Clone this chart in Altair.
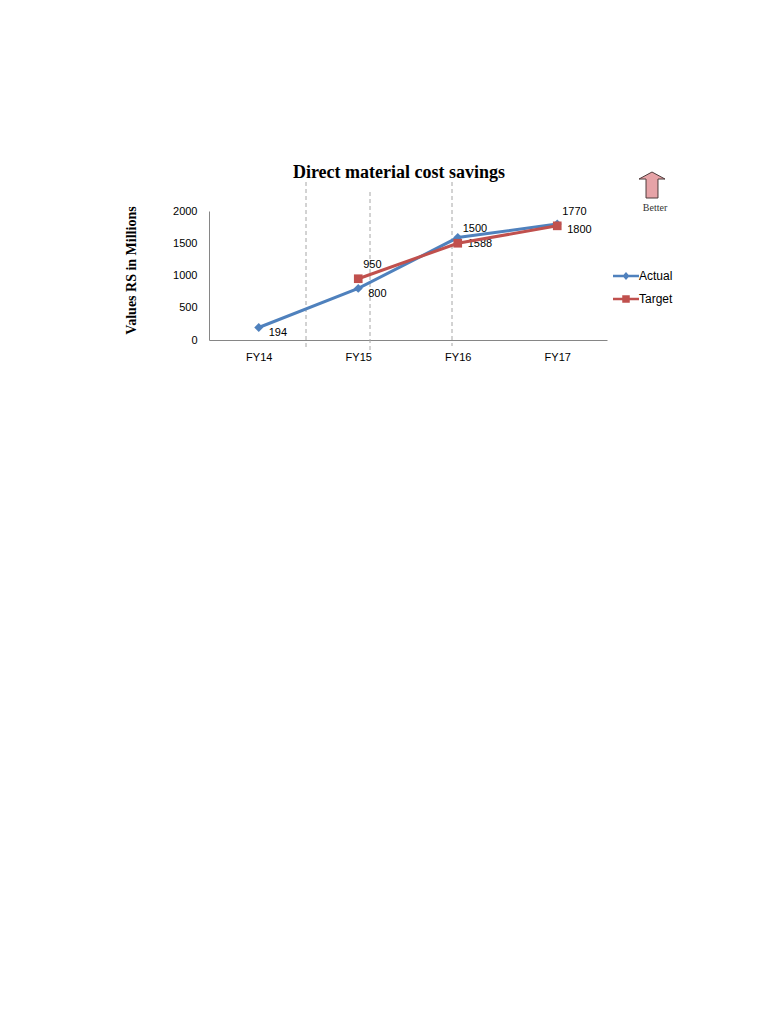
import altair as alt
import pandas as pd

categories = ["FY14", "FY15", "FY16", "FY17"]
actual = [194, 800, 1588, 1800]
target = [None, 950, 1500, 1770]
series_names = ["Actual", "Target"]
series_colors = ["#4F81BD", "#C0504D"]
y_ticks = [0, 500, 1000, 1500, 2000]
title_text = "Direct material cost savings"
y_title = "Values RS in Millions"
better_text = "Better"

rows = []
for c, a, t in zip(categories, actual, target):
    if a is not None:
        rows.append({"FY": c, "series": "Actual", "value": a, "label": str(a)})
    if t is not None:
        rows.append({"FY": c, "series": "Target", "value": t, "label": str(t)})
df = pd.DataFrame(rows)

SANS = "Liberation Sans"
SERIF = "Liberation Serif"

x_enc = alt.X(
    "FY:N", sort=categories,
    scale=alt.Scale(type="point", padding=0.5),
    axis=alt.Axis(title=None, labelAngle=0, ticks=False, labelPadding=11,
                  domainColor="#868686", labelFont=SANS, labelFontSize=11,
                  labelColor="#000000"),
)
y_enc = alt.Y(
    "value:Q", scale=alt.Scale(domain=[0, 2000]),
    axis=alt.Axis(values=y_ticks, format="d", grid=False, ticks=False, labelPadding=12,
                  domainColor="#868686", labelFont=SANS, labelFontSize=11,
                  labelColor="#000000",
                  title=y_title, titleFont=SERIF, titleFontSize=14,
                  titleFontWeight="bold", titleColor="#000000",
                  titleX=-78, titleY=59, titleAlign="center",
                  titleBaseline="middle"),
)
color_scale = alt.Scale(domain=series_names, range=series_colors)

base = alt.Chart(df)

def series_layers(name, colr, shape, size, dx, dy):
    sub = base.transform_filter(alt.datum.series == name)
    line = sub.mark_line(strokeWidth=3, color=colr).encode(x=x_enc, y=y_enc)
    pts = sub.mark_point(shape=shape, filled=True, size=size, opacity=1,
                         color=colr).encode(x=x_enc, y=y_enc)
    lbl = sub.mark_text(align="left", baseline="middle", dx=dx, dy=dy, font=SANS,
                        fontSize=11, color="#000000").encode(
        x=x_enc, y=y_enc, text="label:N")
    return [line, pts, lbl]

actual_layers = series_layers("Actual", series_colors[0], "diamond", 80, 10, 6)
target_layers = series_layers("Target", series_colors[1], "square", 75, 5, -14)

# legend (line + marker symbols)
sym_actual = "M-1,-0.26H4.2V0.26H-1Z M1.6,-0.8L2.3,0L1.6,0.8L0.9,0Z"
sym_target = "M-1,-0.26H4.2V0.26H-1Z M0.85,-0.75H2.35V0.75H0.85Z"
leg = alt.Legend(orient="none", legendX=403, legendY=59, title=None,
                 symbolSize=100, labelOffset=15, labelFont=SANS,
                 labelFontSize=12, labelColor="#000000", symbolOpacity=1,
                 symbolStrokeWidth=0, rowPadding=11, padding=0)
legend_layer = base.mark_point(filled=True, opacity=0, size=1).encode(
    x=x_enc, y=y_enc,
    color=alt.Color("series:N", scale=color_scale, legend=leg),
    shape=alt.Shape("series:N", scale=alt.Scale(domain=series_names,
                                                range=[sym_actual, sym_target]),
                    legend=leg),
)

one = alt.Data(values=[{}])
dash_rules = []
for rx, ry1, ry2 in [(97, -29, 139), (161, -19, 139), (243, -29, 135)]:
    dash_rules.append(
        alt.Chart(one).mark_rule(strokeDash=[4, 3], color="#a6a6a6", strokeWidth=1).encode(
            x=alt.value(rx), y=alt.value(ry1), y2=alt.value(ry2)))

arrow_path = "M0,-1L1,-0.46L0.46,-0.46L0.46,1L-0.46,1L-0.46,-0.46L-1,-0.46Z"
arrow = alt.Chart(one).mark_point(shape=arrow_path, filled=True, fill="#e6a3a7",
                                  stroke="#4d3b3b", strokeWidth=1, size=676,
                                  opacity=1).encode(x=alt.value(443), y=alt.value(-26))
better = alt.Chart(one).mark_text(text=better_text, font=SERIF, fontSize=10,
                                  color="#333333", align="center",
                                  baseline="middle").encode(x=alt.value(446), y=alt.value(-3))

chart = alt.layer(
    *dash_rules, *actual_layers, *target_layers, legend_layer, arrow, better
).properties(
    width=398, height=129,
    background="white",
    title=alt.TitleParams(title_text, font=SERIF, fontSize=18, fontWeight="bold",
                          color="#000000", anchor="middle", dx=-9, dy=36, offset=24),
    autosize=alt.AutoSizeParams(type="none"),
    padding={"left": 201, "top": 203, "right": 150, "bottom": 60},
).configure_view(stroke="transparent", strokeWidth=0)

chart.save("out.html", embed_options={"renderer": "svg", "actions": False})
